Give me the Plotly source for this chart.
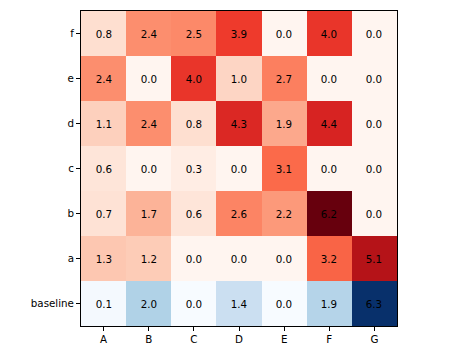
import plotly.graph_objects as go
import plotly.express as px

columns = ["A", "B", "C", "D", "E", "F", "G"]
baseline_label = ["baseline"]
baseline_values = [[0.1, 2.0, 0.0, 1.4, 0.0, 1.9, 6.3]]
rows = ["a", "b", "c", "d", "e", "f"]
row_values = [
    [1.3, 1.2, 0.0, 0.0, 0.0, 3.2, 5.1],
    [0.7, 1.7, 0.6, 2.6, 2.2, 6.2, 0.0],
    [0.6, 0.0, 0.3, 0.0, 3.1, 0.0, 0.0],
    [1.1, 2.4, 0.8, 4.3, 1.9, 4.4, 0.0],
    [2.4, 0.0, 4.0, 1.0, 2.7, 0.0, 0.0],
    [0.8, 2.4, 2.5, 3.9, 0.0, 4.0, 0.0],
]

font = "DejaVu Sans"
fs = 10.3
fig = go.Figure()
fig.add_trace(go.Heatmap(
    z=baseline_values, x=columns, y=baseline_label,
    colorscale=px.colors.sequential.Blues, zmin=0,
    zmax=max(max(r) for r in baseline_values),
    showscale=False, texttemplate="%{z:.1f}",
    textfont=dict(family=font, size=fs, color="black"),
    hoverinfo="skip",
))
fig.add_trace(go.Heatmap(
    z=row_values, x=columns, y=rows,
    colorscale=px.colors.sequential.Reds, zmin=0,
    zmax=max(max(r) for r in row_values),
    showscale=False, texttemplate="%{z:.1f}",
    textfont=dict(family=font, size=fs, color="black"),
    hoverinfo="skip",
))

# page body has an 8px default margin, so the figure is offset by 8px
fig.update_layout(
    width=466, height=347,
    margin=dict(l=73, r=77, t=3, b=29, autoexpand=False),
    paper_bgcolor="white", plot_bgcolor="white",
    font=dict(family=font, size=fs, color="black"),
    showlegend=False,
)
axis_style = dict(
    type="category", showgrid=False, zeroline=False, ticks="outside",
    ticklen=4, tickcolor="black", showline=True, linecolor="black",
    linewidth=1, mirror=True, automargin=False,
    tickfont=dict(family=font, size=fs, color="black"),
)
fig.update_xaxes(categoryorder="array", categoryarray=columns, **axis_style)
fig.update_yaxes(categoryorder="array", categoryarray=baseline_label + rows, **axis_style)

fig.write_html("out.html")
